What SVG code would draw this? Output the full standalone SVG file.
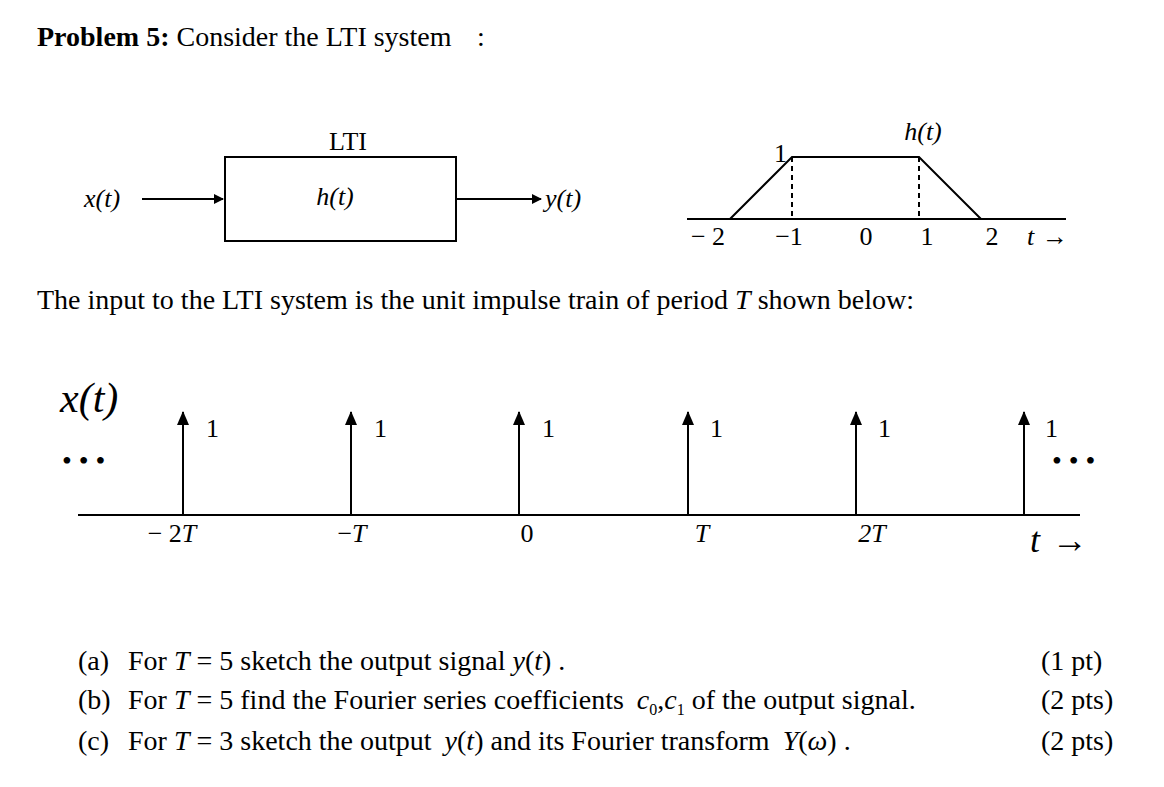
<svg xmlns="http://www.w3.org/2000/svg" width="1164" height="787" viewBox="0 0 1164 787">
<style>
text,tspan{font-family:"Liberation Serif","Times New Roman",serif;fill:#000}
.t{font-size:28px}.s{font-size:26px}.i{font-style:italic}
.l{stroke:#000;stroke-width:2;fill:none}
</style>
<defs>
<marker id="a" markerWidth="10" markerHeight="10" refX="9" refY="5" orient="auto" markerUnits="userSpaceOnUse" viewBox="0 0 10 10"><path d="M0,0L10,5L0,10z" fill="#000"/></marker>
<marker id="b" markerWidth="14" markerHeight="14" refX="13" refY="7" orient="auto" markerUnits="userSpaceOnUse" viewBox="0 0 14 14"><path d="M0,1L14,7L0,13z" fill="#000"/></marker>
</defs>
<rect width="1164" height="787" fill="#fff"/>
<text x="37" y="46" class="t"><tspan font-weight="bold">Problem 5:</tspan> Consider the LTI system</text>
<text x="477" y="46" class="t">:</text>
<g id="lti">
<rect x="225" y="157" width="231" height="84" class="l"/>
<text x="348" y="150" class="s" text-anchor="middle">LTI</text>
<text x="335" y="205" class="s i" text-anchor="middle">h(t)</text>
</g>
<g id="connectors">
<line x1="142" y1="199" x2="223" y2="199" class="l" stroke-width="1.5" marker-end="url(#a)"/>
<line x1="456" y1="199" x2="541" y2="199" class="l" stroke-width="1.5" marker-end="url(#a)"/>
</g>
<text x="84" y="207" class="s i">x(t)</text>
<text x="545" y="207" class="s i">y(t)</text>
<g id="ht">
<line x1="687" y1="219" x2="1066" y2="219" class="l" stroke-width="1.5"/>
<polyline points="730,219 792,157 919,157 981,219" class="l" stroke-width="1.5"/>
<line x1="792" y1="157" x2="792" y2="219" class="l" stroke-width="1.2" stroke-dasharray="5,4"/>
<line x1="919" y1="157" x2="919" y2="219" class="l" stroke-width="1.2" stroke-dasharray="5,4"/>
<text x="774" y="162" class="s">1</text>
<text x="923" y="140" class="s i" text-anchor="middle">h(t)</text>
<text x="708" y="245" class="s" text-anchor="middle">− 2</text>
<text x="789" y="245" class="s" text-anchor="middle">−1</text>
<text x="866" y="245" class="s" text-anchor="middle">0</text>
<text x="927" y="245" class="s" text-anchor="middle">1</text>
<text x="992" y="245" class="s" text-anchor="middle">2</text>
<text x="1027" y="245" class="s i">t</text>
<text x="1042" y="245" class="s">→</text>
</g>
<text x="37" y="309" class="t">The input to the LTI system is the unit impulse train of period <tspan class="i">T</tspan> shown below:</text>
<g id="xt">
<text x="60" y="412" font-size="42" class="i">x(t)</text>
<text x="62" y="470" font-size="28">• • •</text>
<text x="1052" y="470" font-size="28">• • •</text>
<line x1="78" y1="515" x2="1080" y2="515" class="l" stroke-width="1.5"/>
<g class="l" stroke-width="1.5">
<line x1="183" y1="515" x2="183" y2="412" marker-end="url(#b)"/>
<line x1="351" y1="515" x2="351" y2="412" marker-end="url(#b)"/>
<line x1="519" y1="515" x2="519" y2="412" marker-end="url(#b)"/>
<line x1="688" y1="515" x2="688" y2="412" marker-end="url(#b)"/>
<line x1="856" y1="515" x2="856" y2="412" marker-end="url(#b)"/>
<line x1="1024" y1="515" x2="1024" y2="412" marker-end="url(#b)"/>
</g>
<g class="s"><text x="206" y="437">1</text><text x="374" y="437">1</text><text x="542" y="437">1</text><text x="710" y="437">1</text><text x="878" y="437">1</text><text x="1045" y="437">1</text></g>
<text x="172" y="542" class="s" text-anchor="middle">− 2<tspan class="i">T</tspan></text>
<text x="352" y="542" class="s" text-anchor="middle">−<tspan class="i">T</tspan></text>
<text x="527" y="542" class="s" text-anchor="middle">0</text>
<text x="702" y="542" class="s i" text-anchor="middle">T</text>
<text x="872" y="542" class="s i" text-anchor="middle">2T</text>
<text x="1030" y="552" font-size="36" class="i">t</text>
<text x="1052" y="552" font-size="36">→</text>
</g>
<g class="t">
<text x="78" y="670">(a)</text><text x="128" y="670">For <tspan class="i">T</tspan> = 5 sketch the output signal <tspan class="i">y</tspan>(<tspan class="i">t</tspan>) .</text>
<text x="78" y="709">(b)</text><text x="128" y="709">For <tspan class="i">T</tspan> = 5 find the Fourier series coefficients <tspan class="i" dx="6">c</tspan><tspan font-size="16" dy="6">0</tspan><tspan dy="-6">,</tspan><tspan class="i">c</tspan><tspan font-size="16" dy="6">1</tspan><tspan dy="-6"> of the output signal.</tspan></text>
<text x="78" y="750">(c)</text><text x="128" y="750">For <tspan class="i">T</tspan> = 3 sketch the output <tspan class="i" dx="6">y</tspan>(<tspan class="i">t</tspan>) and its Fourier transform <tspan class="i" dx="6">Y</tspan>(<tspan class="i">ω</tspan>) .</text>
<text x="1041" y="670">(1 pt)</text>
<text x="1041" y="709">(2 pts)</text>
<text x="1041" y="750">(2 pts)</text>
</g>
</svg>
